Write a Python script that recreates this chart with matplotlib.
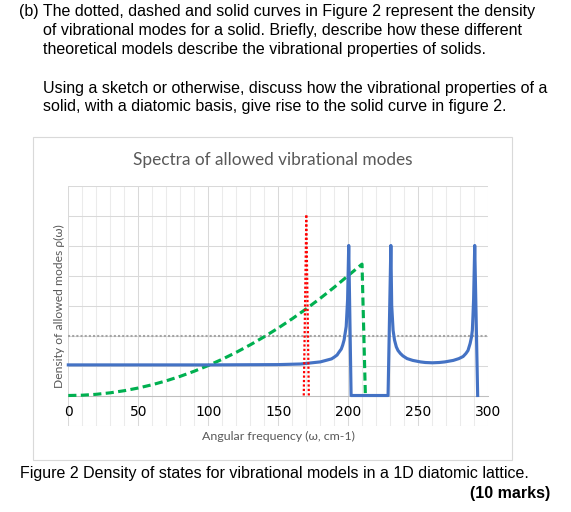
import matplotlib
matplotlib.use("Agg")
import matplotlib.pyplot as plt
from matplotlib.patches import Rectangle

# ---------------- data ----------------
x_ticks = [0, 50, 100, 150, 200, 250, 300]

# solid curve: 1D diatomic lattice density of states
solid_x = [0, 50, 100, 150, 166, 180, 188, 190, 192, 193, 195, 196, 197, 198.5, 199.5, 200.3,
           202, 228.4, 230.4, 231, 232, 233, 234.3, 235.5, 237.2, 239, 242, 246, 251.5, 255,
           260, 265, 269, 275, 279, 282, 284, 285.5, 287, 288, 288.6, 289, 289.5, 290.3, 292.4]
solid_y = [1.02, 1.02, 1.02, 1.03, 1.05, 1.12, 1.22, 1.28, 1.35, 1.42, 1.55, 1.68, 1.85, 2.3, 3.2, 5.0,
           0.0, 0.0, 5.0, 3.0, 2.17, 1.85, 1.62, 1.5, 1.4, 1.32, 1.23, 1.17, 1.12, 1.1,
           1.09, 1.1, 1.12, 1.17, 1.23, 1.3, 1.4, 1.5, 1.73, 1.95, 2.17, 2.6, 3.2, 5.0, 0.0]

# dashed curve: Debye model
debye_x = [0, 10, 20, 30, 40, 50, 60, 70, 80, 90, 100, 110, 120, 130, 140, 150, 160, 170,
           180, 190, 200, 209.8, 212.2]
debye_y = [0.0, 0.01, 0.04, 0.09, 0.16, 0.25, 0.36, 0.49, 0.64, 0.81, 1.0, 1.21, 1.44, 1.69,
           1.96, 2.25, 2.56, 2.89, 3.24, 3.61, 4.0, 4.38, 0.0]

# dotted curve: Einstein model
einstein_x = [168.2, 170.0, 171.8]
einstein_y = [0.0, 6.0, 0.0]

# grey dotted reference level
level_x = [0, 300]
level_y = [2.0, 2.0]

question_lines = [
    "(b) The dotted, dashed and solid curves in Figure 2 represent the density",
    "of vibrational modes for a solid. Briefly, describe how these different",
    "theoretical models describe the vibrational properties of solids.",
    "Using a sketch or otherwise, discuss how the vibrational properties of a",
    "solid, with a diatomic basis, give rise to the solid curve in figure 2.",
]
caption = "Figure 2 Density of states for vibrational models in a 1D diatomic lattice."
marks = "(10 marks)"
chart_title = "Spectra of allowed vibrational modes"
x_label = "Angular frequency (\u03c9, cm-1)"
y_label = "Density of allowed modes \u03c1(\u03c9)"

# ---------------- figure ----------------
W, H = 571, 512
fig = plt.figure(figsize=(W / 100, H / 100), dpi=100)
fig.patch.set_facecolor("white")
renderer = fig.canvas.get_renderer()

CHART_FONT = ["Lato", "DejaVu Sans"]
DOC_FONT = ["Liberation Sans", "DejaVu Sans"]
GREY_TXT = "#595959"


def fx(px):
    return px / W


def fy(py):
    return 1 - py / H


def place(x, y, s, target=None, size=10, rotation=0, **kw):
    t = fig.text(fx(x), fy(y), s, fontsize=size, rotation=rotation, **kw)
    if target is not None:
        bb = t.get_window_extent(renderer)
        length = bb.height if rotation else bb.width
        t.set_fontsize(size * target / length)
    return t


# question text
t0 = place(19, 16.3, question_lines[0], target=533.3 - 19, size=11, family=DOC_FONT,
           ha="left", va="baseline", color="black")
doc_size = t0.get_fontsize()
place(43.3, 35.0, question_lines[1], size=doc_size, family=DOC_FONT, ha="left", va="baseline")
place(43.3, 54.0, question_lines[2], size=doc_size, family=DOC_FONT, ha="left", va="baseline")
place(43.3, 92.7, question_lines[3], size=doc_size, family=DOC_FONT, ha="left", va="baseline")
place(43.3, 111.3, question_lines[4], size=doc_size, family=DOC_FONT, ha="left", va="baseline")

# caption
place(20, 477.7, caption, size=doc_size, family=DOC_FONT, ha="left", va="baseline")
place(550.3, 498.3, marks, size=doc_size, family=DOC_FONT, ha="right", va="baseline",
      fontweight="bold")

# chart frame
fig.patches.append(Rectangle((fx(33), fy(460)), (512 - 33) / W, (460 - 137) / H,
                             transform=fig.transFigure, fill=False,
                             edgecolor="#D9D9D9", linewidth=0.8))

# chart texts
place(272.7, 165.0, chart_title, target=280, size=13, family=CHART_FONT,
      ha="center", va="baseline", color=GREY_TXT)
place(278.7, 439.5, x_label, target=153, size=10, family=CHART_FONT,
      ha="center", va="baseline", color=GREY_TXT)
place(59.6, 305.8, y_label, target=165, size=10, rotation=90, family=CHART_FONT,
      ha="center", va="center", color=GREY_TXT)

# tick label size: "100" about 18 px wide
tmp = fig.text(0, 0, "100", fontsize=10, family=CHART_FONT)
tick_size = 10 * 18.0 / tmp.get_window_extent(renderer).width
tmp.remove()

# axes (plot area)
ax = fig.add_axes([fx(68.3), fy(425.5), 420 / W, 240 / H])
ax.set_facecolor("none")
ax.set_xlim(0, 300)
ax.set_ylim(-1, 7)
ax.set_xticks(x_ticks)
ax.set_xticklabels([str(v) for v in x_ticks], family=CHART_FONT, fontsize=tick_size,
                   color=GREY_TXT)
ax.set_xticks(range(0, 301, 10), minor=True)
ax.set_yticks(range(-1, 8))
ax.set_yticklabels([])
ax.tick_params(axis="both", which="both", length=0)
ax.tick_params(axis="x", pad=7)
ax.set_axisbelow(True)
ax.grid(True, which="major", axis="both", color="#D9D9D9", linewidth=0.75)
ax.grid(True, which="minor", axis="x", color="#EBEBEB", linewidth=0.75)
for side in ("top", "right", "left"):
    ax.spines[side].set_visible(False)
ax.spines["bottom"].set_position(("data", 0))
ax.spines["bottom"].set_color("#BFBFBF")
ax.spines["bottom"].set_linewidth(0.75)

ax.plot(level_x, level_y, color="#A5A5A5", linewidth=1.5, linestyle=(0, (1, 1)),
        dash_capstyle="butt", zorder=3)
ax.plot(debye_x, debye_y, color="#00B050", linewidth=2.25, linestyle=(0, (2.6, 1.4)),
        zorder=4, clip_on=False)
ax.plot(solid_x, solid_y, color="#4472C4", linewidth=2.25, zorder=5,
        solid_joinstyle="round", clip_on=False)
# dotted spike drawn from its apex down both sides so the dots line up at the top
ax.plot(einstein_x[1::-1], einstein_y[1::-1], color="#FF0000", linewidth=1.6,
        linestyle=(0, (1, 1)), dash_capstyle="butt", zorder=6, clip_on=False)
ax.plot(einstein_x[1:], einstein_y[1:], color="#FF0000", linewidth=1.6,
        linestyle=(0, (1, 1)), dash_capstyle="butt", zorder=6, clip_on=False)

fig.savefig("out.png", dpi=100)
